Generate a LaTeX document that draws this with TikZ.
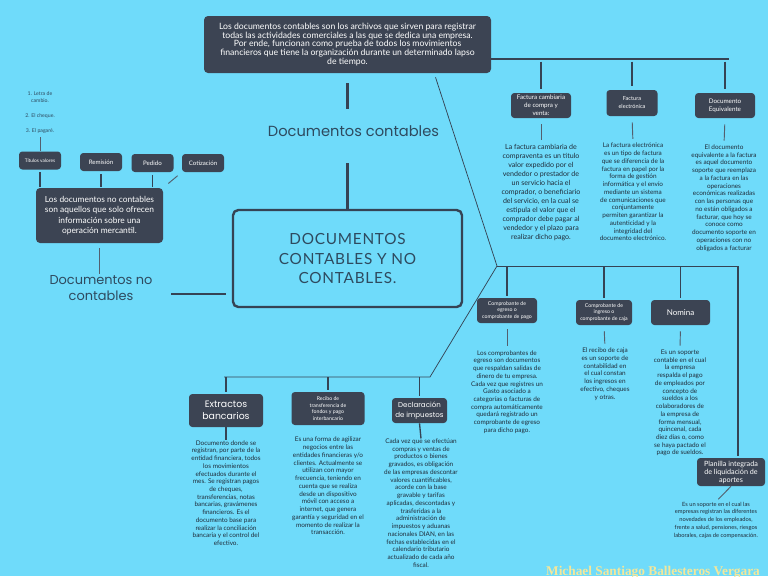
\documentclass[tikz,border=0pt]{standalone}
\usepackage{fontspec}
\setmainfont{Lato}
\newfontfamily\headfont{Poppins}
\newfontfamily\titlefont[LetterSpace=5]{Lato}
\newfontfamily\signfont{Liberation Serif}
\usetikzlibrary{calc}
\definecolor{map_bg}{HTML}{6FDBFA}
\definecolor{map_box}{HTML}{3C4453}
\definecolor{map_line}{HTML}{354354}
\definecolor{map_text}{HTML}{1F2C3A}
\definecolor{map_head}{HTML}{2E4A5F}
\definecolor{map_sign}{HTML}{F4E79A}

\begin{document}
\begin{tikzpicture}[
    x=0.75pt, y=-0.75pt,
    sz/.style 2 args={minimum width=#1*0.75pt, minimum height=#2*0.75pt},
    darkbox/.style={fill=map_box, rounded corners=2.5pt, text=white, align=center, inner sep=1pt},
    note/.style={text=map_text, align=center, inner sep=0pt, font=\fontsize{4.8}{5.8}\selectfont},
    head/.style={text=map_head, align=center, inner sep=0pt, font=\headfont\fontsize{9.7}{12}\selectfont},
    thickline/.style={map_line, line width=2.2pt},
    midline/.style={map_line, line width=1pt},
    thinline/.style={map_line, line width=0.55pt},
    tick/.style={map_line!85, line width=0.7pt}
]
\useasboundingbox (0,0) rectangle (768,576);
\fill[map_bg] (0,0) rectangle (768,576);

% ===== Centro: definicion y titulo =====
\node[darkbox, sz={287}{57}, rounded corners=3pt, font=\fontsize{6.5}{6.6}\selectfont] (intro) at (347.5,44.5)
    {Los documentos contables son los archivos que sirven para registrar\\
     todas las actividades comerciales a las que se dedica una empresa.\\
     Por ende, funcionan como prueba de todos los movimientos\\
     financieros que tiene la organización durante un determinado lapso\\
     de tiempo.};
\node[head, font=\headfont\fontsize{11}{13}\selectfont] (contlbl) at (353.5,131) {Documentos contables};
\node[draw=map_line, line width=1.8pt, rounded corners=4pt, sz={229}{97}, align=center, text=map_head,
      font=\titlefont\fontsize{11.5}{14.3}\selectfont] (title) at (347.5,258.5)
    {DOCUMENTOS\\CONTABLES Y NO\\CONTABLES.};

\draw[thickline, shorten <=7.5pt, shorten >=12pt] (intro.south) -- (intro.south |- contlbl.north);
\draw[thickline, shorten <=20pt] (intro.south |- contlbl.south) -- (title.north);

% ===== Izquierda: documentos no contables =====
\node[head] (nocontlbl) at (101,288) {Documentos no\\contables};
\coordinate (ncA) at (171,294);
\draw[thickline, shorten >=4.5pt] (ncA) -- (ncA -| title.west);

\node[darkbox, sz={127}{55}, rounded corners=3pt, font=\fontsize{6.3}{7.7}\selectfont] (nodesc) at (99.5,215.5)
    {Los documentos no contables\\son aquellos que solo ofrecen\\información sobre una\\operación mercantil.};
\draw[tick, shorten <=3.75pt, shorten >=1pt] (nodesc.south) -- (nodesc.south |- nocontlbl.north);

\foreach \nm/\x/\y/\fs/\txt in {tv/40/160.5/3.6/Títulos valores, rem/101/162/4.6/Remisión,
                                ped/152.5/163/4.6/Pedido, cot/203/163/4.6/Cotización}
    \node[darkbox, sz={42}{18}, font=\fontsize{\fs}{6}\selectfont] (\nm) at (\x,\y) {\txt};
\foreach \nm in {tv, rem, ped}
    \draw[midline, shorten <=2pt, shorten >=0.5pt] (\nm.south) -- (\nm.south |- nodesc.north);
\draw[tick, shorten <=4pt, shorten >=5pt] (cot.south west) -- (nodesc.north east);

\node[note, text=map_head, font=\fontsize{3.9}{4.9}\selectfont] (tvlist) at (40,112.5)
    {1. Letra de\\cambio.\\[6.2pt]2. El cheque.\\[6.2pt]3. El pagaré.};
\draw[tick, shorten <=3pt] (tvlist.south) -- (tv.north);

% ===== Derecha arriba: facturas =====
\coordinate (hubR) at (729,59);
\draw[thickline] (intro.east |- hubR) -- (hubR);

\node[darkbox, sz={60}{25}, font=\fontsize{4.7}{6}\selectfont] (fcv) at (541,105.5) {Factura cambiaria\\de compra y\\venta:};
\node[darkbox, sz={51}{26}, font=\fontsize{4.2}{6}\selectfont] (fe) at (632,103) {Factura\\electrónica};
\node[darkbox, sz={60}{25}, font=\fontsize{4.7}{6}\selectfont] (deq) at (725,105.5) {Documento\\Equivalente};

\node[note, font=\fontsize{5.3}{6.75}\selectfont] (fcvtxt) at (541,193)
    {La factura cambiaria de\\compraventa es un titulo\\valor expedido por el\\vendedor o prestador de\\un servicio hacia el\\
     comprador, o beneficiario\\del servicio, en la cual se\\estipula el valor que el\\comprador debe pagar al\\
     vendedor y el plazo para\\realizar dicho pago.};
\node[note] (fetxt) at (633,192)
    {La factura electrónica\\es un tipo de factura\\que se diferencia de la\\factura en papel por la\\forma de gestión\\
     informática y el envío\\mediante un sistema\\de comunicaciones que\\conjuntamente\\permiten garantizar la\\
     autenticidad y la\\integridad del\\documento electrónico.};
\node[note] (deqtxt) at (724,198)
    {El documento\\equivalente a la factura\\es aquel documento\\soporte que reemplaza\\a la factura en las\\operaciones\\
     económicas realizadas\\con las personas que\\no están obligados a\\facturar, que hoy se\\conoce como\\
     documento soporte en\\operaciones con no\\obligados a facturar};

\foreach \b/\t in {fcv/fcvtxt, fe/fetxt, deq/deqtxt} {
    \draw[midline, line width=1.6pt, shorten <=2pt, shorten >=3pt] (\b.north |- hubR) -- (\b.north);
    \draw[tick, shorten <=4.5pt, shorten >=3pt] (\b.south) -- (\t.north);
}

% ===== Derecha abajo: comprobantes =====
\coordinate (jnc) at (497,266);
\coordinate (rEnd) at (738,266);
\draw[thinline] ($(intro.south)+(88,4)$) -- (jnc);
\draw[thinline] (jnc) -- (rEnd);

\node[darkbox, sz={60}{25}, font=\fontsize{3.9}{4.6}\selectfont] (egr) at (507,310.5) {Comprobante de\\egreso o\\comprobante de pago};
\node[darkbox, sz={56}{25}, font=\fontsize{3.9}{4.6}\selectfont] (ing) at (604,312.5) {Comprobante de\\ingreso o\\comprobante de caja};
\node[darkbox, sz={59}{25}, font=\fontsize{6}{7}\selectfont] (nom) at (680.5,312.5) {Nomina};
\node[darkbox, sz={68}{28}, font=\fontsize{5.4}{6}\selectfont] (pla) at (731,472) {Planilla integrada\\de liquidación de\\aportes};

\node[note] (egrtxt) at (507,392)
    {Los comprobantes de\\egreso son documentos\\que respaldan salidas de\\dinero de tu empresa.\\Cada vez que registres un\\
     Gasto asociado a\\categorías o facturas de\\compra automáticamente\\quedará registrado un\\comprobante de egreso\\
     para dicho pago.};
\node[note] (ingtxt) at (605,374)
    {El recibo de caja\\es un soporte de\\contabilidad en\\el cual constan\\los ingresos en\\efectivo, cheques\\y otras.};
\node[note] (nomtxt) at (680,403)
    {Es un soporte\\contable en el cual\\la empresa\\respalda el pago\\de empleados por\\concepto de\\sueldos a los\\
     colaboradores de\\la empresa de\\forma mensual,\\quincenal, cada\\diez días o, como\\se haya pactado el\\pago de sueldos.};
\node[note, font=\fontsize{4.3}{5.8}\selectfont] (platxt) at (716,520)
    {Es un soporte en el cual las\\empresas registran las diferentes\\novedades de los empleados,\\
     frente a salud, pensiones, riesgos\\laborales, cajas de compensación.};

\foreach \b/\t in {egr/egrtxt, ing/ingtxt, nom/nomtxt} {
    \draw[midline, shorten >=1.5pt] (\b.north |- rEnd) -- (\b.north);
    \draw[tick, shorten <=4.5pt, shorten >=3pt] (\b.south) -- (\t.north);
}
\draw[midline, shorten >=1.5pt] (rEnd) -- (rEnd |- pla.north);
\draw[tick, shorten >=2.5pt] (pla.south) -- (platxt.north);

% ===== Izquierda abajo: bancos e impuestos =====
\coordinate (bend) at (430,377);
\coordinate (lEnd) at (224,377);
\draw[thinline] (jnc) -- (bend) -- (lEnd);

\node[darkbox, sz={74}{33}, font=\headfont\fontsize{7}{9.4}\selectfont] (ext) at (226,410.5) {Extractos\\bancarios};
\node[darkbox, sz={73}{33}, font=\fontsize{3.9}{5}\selectfont] (rec) at (328,408.5) {Recibo de\\transferencia de\\fondos y pago\\interbancario};
\node[darkbox, sz={55}{25}, font=\headfont\fontsize{5.3}{7.5}\selectfont] (dec) at (419.5,410.5) {Declaración\\de impuestos};

\node[note] (exttxt) at (226,493)
    {Documento donde se\\registran, por parte de la\\entidad financiera, todos\\los movimientos\\efectuados durante el\\
     mes. Se registran pagos\\de cheques,\\transferencias, notas\\bancarias, gravámenes\\financieros. Es el\\
     documento base para\\realizar la conciliación\\bancaria y el control del\\efectivo.};
\node[note] (rectxt) at (328,486)
    {Es una forma de agilizar\\negocios entre las\\entidades financieras y/o\\clientes. Actualmente se\\utilizan con mayor\\
     frecuencia, teniendo en\\cuenta que se realiza\\desde un dispositivo\\móvil con acceso a\\internet, que genera\\
     garantía y seguridad en el\\momento de realizar la\\transacción.};
\node[note] (dectxt) at (421,503)
    {Cada vez que se efectúan\\compras y ventas de\\productos o bienes\\gravados, es obligación\\de las empresas descontar\\
     valores cuantificables,\\acorde con la base\\gravable y tarifas\\aplicadas, descontadas y\\trasferidas a la\\
     administración de\\impuestos y aduanas\\nacionales DIAN, en las\\fechas establecidas en el\\calendario tributario\\
     actualizado de cada año\\fiscal.};

\foreach \b in {ext, rec, dec}
    \draw[midline, shorten >=1pt] (\b.north |- lEnd) -- (\b.north);
\draw[midline] (ext.south) -- (exttxt.north);
\draw[midline] (dec.south) -- (dectxt.north);

% Firma
\node[text=map_sign, inner sep=0pt, anchor=base, font=\signfont\bfseries\fontsize{10}{10}\selectfont] (sign) at (653,575)
    {Michael Santiago Ballesteros Vergara};

\end{tikzpicture}
\end{document}
